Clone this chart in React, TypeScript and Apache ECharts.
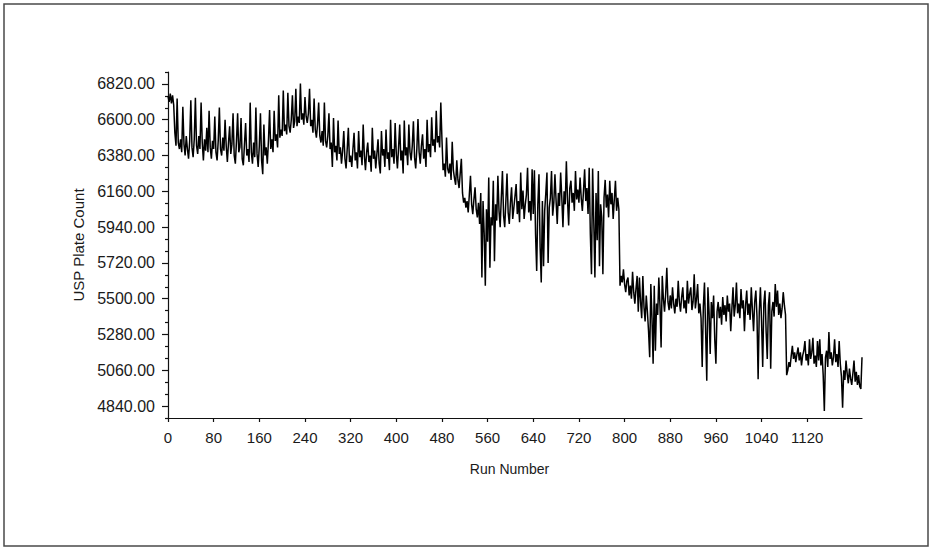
import { useEffect, useRef } from "react";
import * as echarts from "echarts";

// Run number spacing between stored readings
const RUN_STEP = 2;
const X_MAX = 1216;

// Tick labels
const xTicks = [0, 80, 160, 240, 320, 400, 480, 560, 640, 720, 800, 880, 960, 1040, 1120];
const yTicks = [4840, 5060, 5280, 5500, 5720, 5940, 6160, 6380, 6600, 6820];
const Y_STEP = 220;
const Y_MINOR = Y_STEP / 3;
const Y_MIN = yTicks[0] - Y_MINOR;
const Y_MAX = yTicks[yTicks.length - 1] + Y_MINOR;
const yMinorTicks = yTicks.flatMap((m) => [m - Y_MINOR, m + Y_MINOR]);

// USP plate count, runs 0..398 (every 2nd run)
const plateRuns0 = [
  6745, 6710, 6760, 6700, 6750, 6690, 6520, 6440, 6730, 6460, 6420, 6480, 6400, 6680, 6450, 6380, 6500, 6420, 6360, 6470,
  6720, 6430, 6370, 6480, 6735, 6440, 6390, 6500, 6420, 6705, 6460, 6350, 6480, 6410, 6550, 6400, 6655, 6430, 6360, 6470,
  6420, 6620, 6400, 6350, 6470, 6675, 6420, 6380, 6490, 6410, 6600, 6440, 6340, 6460, 6560, 6390, 6450, 6640, 6380, 6330,
  6470, 6640, 6400, 6430, 6610, 6360, 6320, 6450, 6580, 6380, 6420, 6340, 6705, 6400, 6330, 6460, 6370, 6675, 6390, 6310,
  6440, 6640, 6350, 6265, 6570, 6380, 6430, 6330, 6470, 6660, 6420, 6480, 6400, 6655, 6470, 6510, 6430, 6750, 6490, 6540,
  6500, 6780, 6530, 6570, 6510, 6765, 6560, 6520, 6600, 6750, 6550, 6590, 6790, 6560, 6620, 6580, 6822, 6600, 6640, 6570,
  6740, 6620, 6580, 6640, 6790, 6560, 6600, 6520, 6730, 6540, 6490, 6570, 6705, 6500, 6460, 6530, 6440, 6705, 6470, 6430,
  6500, 6640, 6420, 6460, 6310, 6610, 6400, 6440, 6350, 6595, 6390, 6430, 6330, 6410, 6530, 6360, 6300, 6420, 6550, 6340,
  6380, 6310, 6420, 6520, 6350, 6400, 6300, 6530, 6370, 6410, 6320, 6570, 6380, 6290, 6400, 6460, 6340, 6380, 6280, 6550,
  6360, 6410, 6300, 6390, 6480, 6330, 6270, 6530, 6380, 6420, 6310, 6540, 6360, 6400, 6290, 6600, 6370, 6420, 6330, 6580,
];

// runs 400..798
const plateRuns400 = [
  6390, 6300, 6430, 6570, 6350, 6410, 6270, 6595, 6380, 6430, 6320, 6570, 6400, 6350, 6440, 6590, 6370, 6300, 6420, 6605,
  6400, 6330, 6440, 6510, 6360, 6420, 6310, 6600, 6400, 6450, 6370, 6615, 6440, 6480, 6400, 6655, 6460, 6500, 6430, 6705,
  6480, 6290, 6330, 6250, 6490, 6300, 6270, 6330, 6230, 6465, 6290, 6240, 6200, 6350, 6230, 6180, 6270, 6360, 6150, 6090,
  6120, 6060, 6100, 6030, 6140, 6255, 6080, 6020, 6110, 6185, 6050, 6000, 6090, 5960, 6150, 5630, 6100, 5900, 5580, 6050,
  5850, 6245, 5690, 6000, 5950, 6225, 5730, 6080, 5980, 6255, 6040, 5940, 6120, 6285, 6010, 5940, 6100, 6270, 6030, 5960,
  6090, 6185, 5990, 6060, 6130, 6205, 6020, 6100, 5970, 6275, 6050, 6165, 5990, 6080, 6140, 6305, 6030, 6100, 5980, 6295,
  6020, 6290, 5900, 5670, 6080, 6265, 5820, 5600, 6100, 5700, 6040, 6150, 6275, 5720, 6060, 6120, 6285, 6010, 6090, 6265,
  6100, 5960, 6150, 6070, 6275, 6120, 5940, 6160, 6080, 6345, 6110, 5950, 6180, 6225, 6090, 6150, 6040, 6285, 6110, 6170,
  6090, 6245, 6120, 6040, 6160, 6295, 6100, 6180, 6020, 6305, 5900, 5650, 6300, 5980, 5630, 6150, 5860, 6285, 5700, 6080,
  6000, 5650, 6120, 6230, 6060, 6140, 6000, 6225, 6080, 6150, 5990, 6110, 6225, 6040, 6120, 6050, 5580, 5640, 5600, 5680,
];

// runs 800..1216
const plateRuns800 = [
  5590, 5540, 5610, 5630, 5520, 5580, 5500, 5665, 5540, 5470, 5560, 5640, 5420, 5630, 5480, 5380, 5640, 5450, 5360, 5520,
  5420, 5300, 5140, 5590, 5380, 5100, 5580, 5180, 5470, 5400, 5630, 5460, 5200, 5640, 5500, 5420, 5530, 5690, 5480, 5430,
  5520, 5440, 5570, 5470, 5410, 5500, 5450, 5610, 5480, 5420, 5510, 5570, 5440, 5490, 5410, 5610, 5470, 5530, 5570, 5430,
  5480, 5650, 5440, 5500, 5590, 5410, 5470, 5380, 5080, 5450, 5600, 5300, 4995, 5570, 5420, 5160, 5480, 5380, 5520, 5250,
  5100, 5420, 5480, 5380, 5450, 5340, 5510, 5400, 5460, 5360, 5520, 5420, 5470, 5300, 5440, 5570, 5390, 5460, 5600, 5410,
  5470, 5380, 5560, 5440, 5490, 5300, 5460, 5550, 5400, 5470, 5370, 5570, 5430, 5300, 5480, 5550, 5390, 5005, 5420, 5570,
  5360, 5080, 5470, 5550, 5300, 5130, 5460, 5540, 5070, 5420, 5480, 5390, 5590, 5450, 5550, 5400, 5470, 5380, 5440, 5540,
  5460, 5400, 5030, 5060, 5110, 5080, 5150, 5210, 5130, 5170, 5110, 5160, 5200, 5120, 5170, 5090, 5150, 5180, 5240, 5120,
  5160, 5090, 5250, 5130, 5170, 5260, 5100, 5150, 5080, 5240, 5120, 5250, 5090, 5160, 5030, 4810, 5140, 5180, 5080, 5295,
  5130, 5170, 5090, 5140, 5250, 5110, 5160, 5080, 5240, 5100, 5020, 4830, 5060, 5000, 5120, 5040, 4980, 5070, 5010, 4970,
  5040, 5120, 4990, 5050, 4970, 5030, 4960, 4945, 5140,
];

const FONT = "'Liberation Sans', Arial, sans-serif";
const INK = "#1a1a1a";

export default function App() {
  const ref = useRef<HTMLDivElement>(null);

  useEffect(() => {
    if (!ref.current) return;
    const chart = echarts.init(ref.current, null, { renderer: "svg" });
    const values = [...plateRuns0, ...plateRuns400, ...plateRuns800];
    const data = values.map((v, i) => [i * RUN_STEP, v]);

    chart.setOption({
      animation: false,
      backgroundColor: "#ffffff",
      graphic: [
        {
          type: "rect",
          silent: true,
          z: -10,
          shape: { x: 4, y: 4, width: 924, height: 542 },
          style: { fill: "none", stroke: "#4a4a4a", lineWidth: 1.5 },
        },
      ],
      grid: { left: 168, top: 72, right: 69, bottom: 133 },
      xAxis: {
        type: "value",
        min: 0,
        max: X_MAX,
        name: "Run Number",
        nameLocation: "middle",
        nameGap: 44,
        nameMoveOverlap: false,
        nameTextStyle: { fontFamily: FONT, fontSize: 14, color: INK, padding: [0, 11, 0, 0] },
        axisLine: { show: true, onZero: false, lineStyle: { color: "#111", width: 1.2 } },
        axisTick: { show: true, customValues: xTicks, length: 4, lineStyle: { color: "#111", width: 1.2 } },
        axisLabel: {
          customValues: xTicks,
          hideOverlap: false,
          showMinLabel: true,
          showMaxLabel: true,
          fontFamily: FONT,
          fontSize: 15,
          color: INK,
          margin: 12,
          formatter: (v: number) => String(v),
        },
        splitLine: { show: false },
      },
      yAxis: [
        {
          type: "value",
          min: Y_MIN,
          max: Y_MAX,
          position: "left",
          name: "USP Plate Count",
          nameLocation: "middle",
          nameRotate: 90,
          nameGap: 82,
          nameMoveOverlap: false,
          nameTextStyle: { fontFamily: FONT, fontSize: 15, color: INK },
          axisLine: { show: true, onZero: false, lineStyle: { color: "#111", width: 1.2 } },
          axisTick: { show: true, customValues: yTicks, length: 6, lineStyle: { color: "#111", width: 1.2 } },
          axisLabel: {
            customValues: yTicks,
            hideOverlap: false,
            fontFamily: FONT,
            fontSize: 16,
            color: INK,
            margin: 13,
            formatter: (v: number) => v.toFixed(2),
          },
          splitLine: { show: false },
        },
        {
          type: "value",
          min: Y_MIN,
          max: Y_MAX,
          position: "left",
          axisLine: { show: false },
          axisTick: { show: true, customValues: yMinorTicks, length: 3, lineStyle: { color: "#111", width: 1.2 } },
          axisLabel: { show: false },
          splitLine: { show: false },
        },
      ],
      series: [
        {
          type: "line",
          data,
          xAxisIndex: 0,
          yAxisIndex: 0,
          showSymbol: false,
          symbol: "none",
          lineStyle: { color: "#000", width: 1.5 },
        },
      ],
    });

    return () => chart.dispose();
  }, []);

  return (
    <div
      ref={ref}
      style={{ position: "fixed", left: 0, top: 0, width: 931, height: 551, background: "#fff" }}
    />
  );
}
